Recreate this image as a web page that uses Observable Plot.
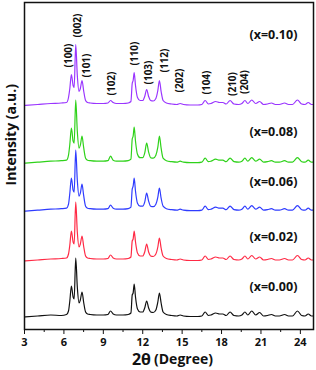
<!DOCTYPE html>
<html>
<head>
<meta charset="utf-8">
<script src="https://cdn.jsdelivr.net/npm/d3@7"></script>
<script src="https://cdn.jsdelivr.net/npm/@observablehq/plot@0.6"></script>
<style>
  html, body { margin: 0; padding: 0; background: #fff; }
  svg { font-family: "Open Sans", sans-serif; }
</style>
</head>
<body>
<div id="chart"></div>
<script>
// 2θ sample positions (degrees)
const twoTheta = [3,4,5,5.8,6.2,6.35,6.45,6.57,6.7,6.78,6.9,7.02,7.15,7.25,7.38,7.5,7.65,7.8,8.0,8.5,9.0,9.35,9.55,9.75,10.0,10.5,10.9,11.1,11.2,11.27,11.35,11.45,11.6,11.8,12.0,12.15,12.3,12.45,12.6,12.8,13.0,13.15,13.27,13.4,13.55,13.8,14.2,14.6,14.85,15.1,15.6,16.2,16.5,16.75,17.0,17.2,17.55,17.85,18.1,18.35,18.65,18.95,19.3,19.55,19.78,20.0,20.3,20.6,20.9,21.2,21.5,21.8,22.1,22.4,22.8,23.1,23.4,23.78,24.1,24.35,24.6,24.85,25];

// Intensities (a.u.)
const int000 = [0,1,2,1.5,2.5,6,16,31,20,18,59,30,14,17,25,15,5,3,2.5,2,2,2.5,6,3,2,2,2.5,4,22,24,33,20,8,5,5,9,16,9,5,4.5,7,15,24,14,5,2.5,1.5,1,2,1,0.5,0.5,1,5,1.5,2,4,3,3,1.5,5,1.5,1,2,5,2,6,2,4.5,1,1.5,2.5,1,1,2.5,1,1,6,1.5,1,3,1,1];
const int002 = [0,1,2,2.5,3,7,16,30,19,17,59,29,14,17,25,15,5,3,2.5,2,2,2.5,6,3,2,2,2.5,4,20,22,30,19,8,5,5,9,17,9,5,4.5,7,14,23,13,5,2.5,1.5,1,2,1,0.5,0.5,1,5,1.5,2,4,3,3,1.5,5,1.5,1,2,5,2,5.5,2,4,1,1.5,2.5,1,1,2.5,1,1,5.5,1.5,1,3,1,1];
const int006 = [0,1,2,2.5,3,7,18,33,21,19,61,31,15,18,27,16,5,3,2.5,2,2,2.5,6,3,2,2,2.5,4,22,25,33,20,8,5,5,9,18,10,5,4.5,7,14,23,13,5,2.5,1.5,1,2,1,0.5,0.5,1,5,1.5,2,4,3,3,1.5,5,1.5,1,2,5,2,5.5,2,4,1,1.5,2.5,1,1,2.5,1,1,5.5,1.5,1,3,1,1];
const int008 = [0,1,2,2.5,3,8,19,35,22,20,63,32,15,18,27,16,5,3,2.5,2,2,2.5,7,3,2,2,2.5,4,24,27,36,22,9,5.5,5.5,10,20,11,5.5,5,8,16,27,15,5,2.5,1.5,1,2,1,0.5,0.5,1,5,1.5,2,4,3,3,1.5,5,1.5,1,2,5,2,5.5,2,4,1,1.5,2.5,1,1,2.5,1,1,5.5,1.5,1,3,1,1];
const int010 = [0,1,2,2.5,3,8,17,31,20,18,61,30,14,17,25,15,5,3,2.5,2,2,2.5,5,3,2,2,2.5,4,22,25,33,20,8,5,5,9,16,9,5,4.5,7,15,25,14,5,2.5,1.5,1,2,1,0.5,0.5,1,5,1.5,2,4,3,3,1.5,5,1.5,1,2,5,2,5.5,2,4,1,1.5,2.5,1,1,2.5,1,1,5.5,1.5,1,3,1,1];

const seriesLabels = ["(x=0.00)", "(x=0.02)", "(x=0.06)", "(x=0.08)", "(x=0.10)"];
const seriesValues = [int000, int002, int006, int008, int010];
const offsets = [12.5, 68.5, 118.3, 166.3, 224];   // vertical stacking offsets (a.u.)
const colors = ["#111111", "#ff2a45", "#2f3cff", "#2fd21a", "#9a35ff"];

const hklLabels = ["(100)","(002)","(101)","(102)","(110)","(103)","(112)","(202)","(104)","(210)","(204)"];
const hklAngles = [6.36, 7.05, 7.71, 9.61, 11.37, 12.49, 13.71, 14.79, 16.87, 18.89, 19.78];
const hklLevels = [274, 304, 264, 246, 276, 257, 269, 249, 247, 245.5, 247.5];

const xTicks = [3, 6, 9, 12, 15, 18, 21, 24];
const xMinorTicks = [4.5, 7.5, 10.5, 13.5, 16.5, 19.5, 22.5];

const rows = [];
seriesValues.forEach((vals, k) => {
  vals.forEach((v, j) => rows.push({s: seriesLabels[k], t: twoTheta[j], y: offsets[k] + v}));
});
const labelRows = seriesLabels.map((s, k) => ({s, t: 21.95, y: [42.3, 92.3, 148, 197.3, 295][k]}));
const hklRows = hklLabels.map((h, i) => ({h, t: hklAngles[i], y: hklLevels[i]}));

const chart = Plot.plot({
  width: 316,
  height: 370,
  marginLeft: 24,
  marginRight: 3,
  marginTop: 2,
  marginBottom: 41,
  x: {domain: [3, 25]},
  y: {domain: [0, 327], axis: null},
  color: {domain: seriesLabels, range: colors},
  style: {fontFamily: "Open Sans, sans-serif", background: "#fff"},
  marks: [
    Plot.line(rows, {x: "t", y: "y", z: "s", stroke: "s", strokeWidth: 1.2, curve: "monotone-x"}),
    Plot.text(labelRows, {x: "t", y: "y", text: "s", fontSize: 12.5, fontWeight: "bold", fill: "#111"}),
    Plot.text(hklRows, {x: "t", y: "y", text: "h", rotate: -90, fontSize: 10, fontWeight: "bold", fill: "#111"}),
    Plot.axisX({ticks: xMinorTicks, tickSize: 3, text: null, label: null, stroke: "#111"}),
    Plot.axisX({ticks: xTicks, tickSize: 5, tickPadding: 4, fontSize: 11, fontWeight: "bold", label: null, stroke: "#111", fill: "#111"}),
    Plot.text(["2θ"], {frameAnchor: "bottom", dx: -18, dy: 24, lineAnchor: "top", textAnchor: "end", fontSize: 16, fontWeight: "bold", fill: "#111"}),
    Plot.text(["(Degree)"], {frameAnchor: "bottom", dx: -15, dy: 25, lineAnchor: "top", textAnchor: "start", fontSize: 14, fontWeight: "bold", fill: "#111"}),
    Plot.text(["Intensity (a.u.)"], {frameAnchor: "left", y: [144], dx: -13, rotate: -90, fontSize: 14, fontWeight: "bold", fill: "#111"}),
    Plot.frame({stroke: "#111", strokeWidth: 1.5})
  ]
});
document.getElementById("chart").appendChild(chart);
</script>
</body>
</html>
